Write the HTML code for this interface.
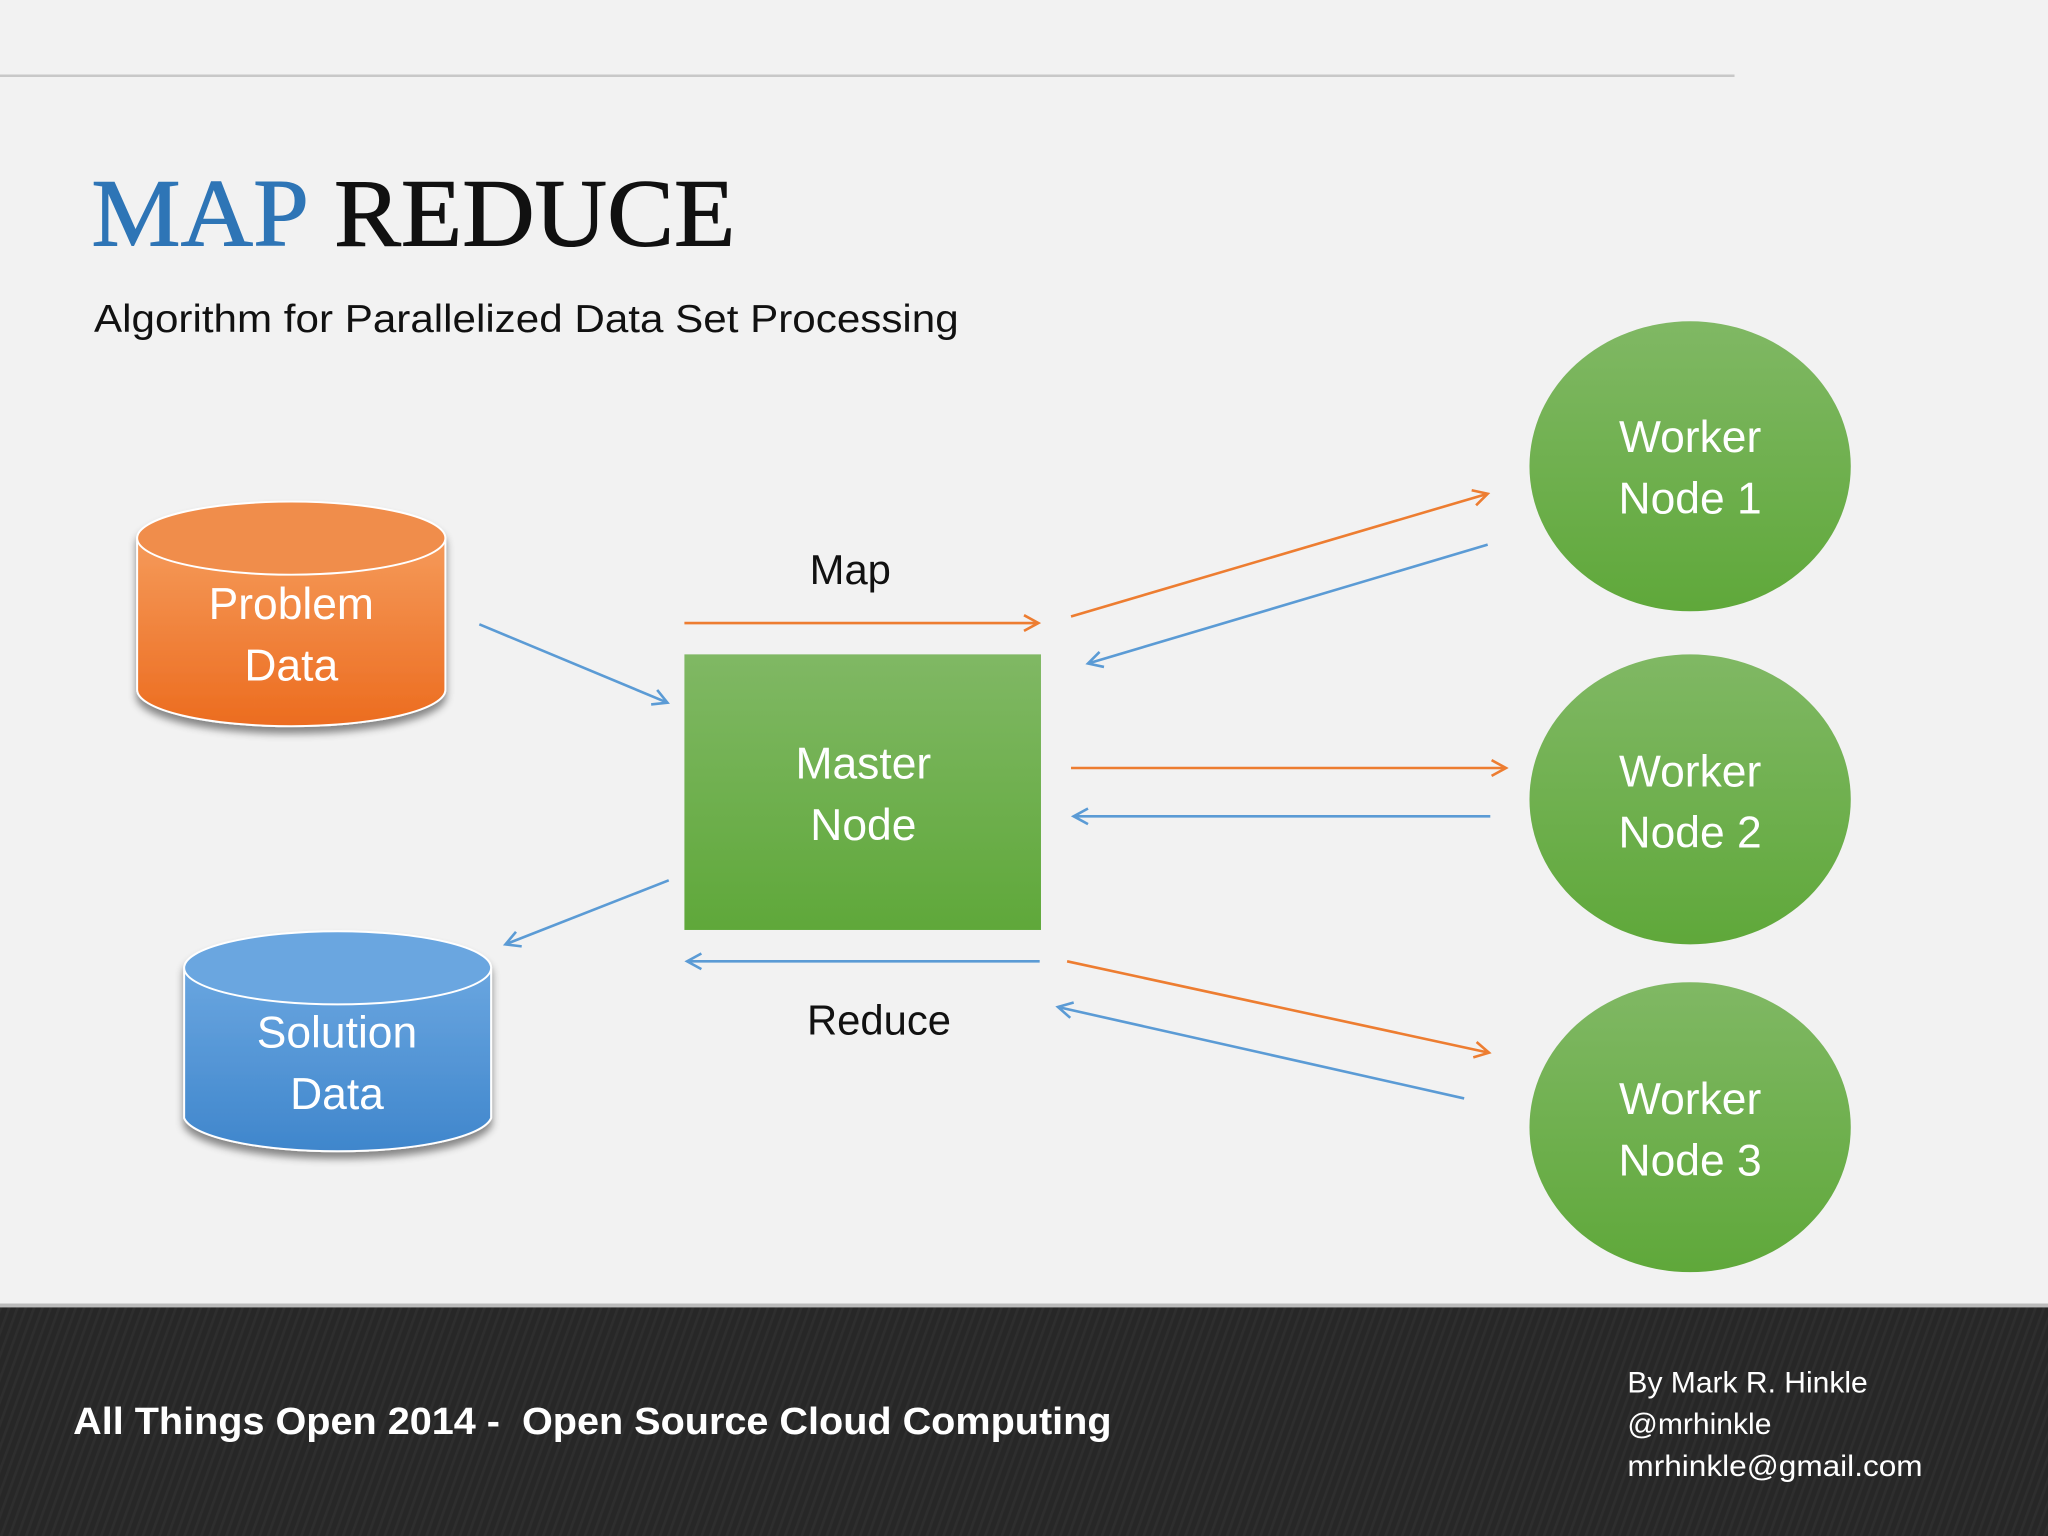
<!DOCTYPE html>
<html><head><meta charset="utf-8"><style>
html,body{margin:0;padding:0;width:2048px;height:1536px;overflow:hidden;background:#f2f2f2}
svg{display:block}
</style></head><body>
<svg width="2048" height="1536" viewBox="0 0 1568 1176" xmlns="http://www.w3.org/2000/svg">
<defs>
<linearGradient id="og" x1="0" y1="0" x2="0" y2="1"><stop offset="0" stop-color="#f59a5a"/><stop offset="1" stop-color="#ec6c1f"/></linearGradient>
<linearGradient id="bg" x1="0" y1="0" x2="0" y2="1"><stop offset="0" stop-color="#6aa6e0"/><stop offset="1" stop-color="#3f86cc"/></linearGradient>
<linearGradient id="gg" x1="0" y1="0" x2="0" y2="1"><stop offset="0" stop-color="#80b864"/><stop offset="1" stop-color="#5fa83a"/></linearGradient>
<pattern id="stripe" width="6" height="6" patternUnits="userSpaceOnUse" patternTransform="rotate(20)"><rect width="6" height="6" fill="#272727"/><rect width="2" height="6" fill="#2e2e2e"/></pattern>
<marker id="ao" markerWidth="14" markerHeight="14" refX="12" refY="7" orient="auto" markerUnits="userSpaceOnUse"><path d="M1,1 L12,7 L1,13" fill="none" stroke="#ed7d31" stroke-width="2"/></marker>
<marker id="ab" markerWidth="14" markerHeight="14" refX="12" refY="7" orient="auto" markerUnits="userSpaceOnUse"><path d="M1,1 L12,7 L1,13" fill="none" stroke="#5b9bd5" stroke-width="2"/></marker>
<filter id="sh" x="-10%" y="-10%" width="120%" height="130%"><feDropShadow dx="0" dy="5" stdDeviation="3" flood-color="#000" flood-opacity="0.45"/></filter>
</defs>
<rect width="1568" height="1176" fill="#f2f2f2"/>
<line x1="0" y1="58" x2="1328" y2="58" stroke="#c8c8c8" stroke-width="2"/>
<text x="70" y="188" font-family="Liberation Serif, serif" font-size="74" textLength="493" lengthAdjust="spacingAndGlyphs" stroke="#111" stroke-width="0.8"><tspan fill="#2e75b6" stroke="#2e75b6">MAP</tspan><tspan fill="#111"> REDUCE</tspan></text>
<text x="72" y="254" font-family="Liberation Sans, sans-serif" font-size="30" fill="#111" textLength="662" lengthAdjust="spacingAndGlyphs">Algorithm for Parallelized Data Set Processing</text>

<g filter="url(#sh)">
<path d="M105,412 L105,528 A118,28 0 0 0 341,528 L341,412 Z" fill="url(#og)" stroke="#fff" stroke-width="1.5"/>
<ellipse cx="223" cy="412" rx="118" ry="28" fill="#f08d4c" stroke="#fff" stroke-width="1.5"/>
</g>
<text x="223" y="474" text-anchor="middle" font-family="Liberation Sans, sans-serif" font-size="34" fill="#fff">Problem</text>
<text x="223" y="521" text-anchor="middle" font-family="Liberation Sans, sans-serif" font-size="34" fill="#fff">Data</text>

<g filter="url(#sh)">
<path d="M141,741 L141,856 A118,28 0 0 0 376,856 L376,741 Z" fill="url(#bg)" stroke="#fff" stroke-width="1.5"/>
<ellipse cx="258.5" cy="741" rx="117.5" ry="28" fill="#6aa6e0" stroke="#fff" stroke-width="1.5"/>
</g>
<text x="258" y="802" text-anchor="middle" font-family="Liberation Sans, sans-serif" font-size="34" fill="#fff">Solution</text>
<text x="258" y="849" text-anchor="middle" font-family="Liberation Sans, sans-serif" font-size="34" fill="#fff">Data</text>

<rect x="524" y="501" width="273" height="211" fill="url(#gg)"/>
<text x="661" y="596" text-anchor="middle" font-family="Liberation Sans, sans-serif" font-size="34" fill="#fff">Master</text>
<text x="661" y="643" text-anchor="middle" font-family="Liberation Sans, sans-serif" font-size="34" fill="#fff">Node</text>

<g font-family="Liberation Sans, sans-serif" font-size="34" fill="#fff" text-anchor="middle">
<ellipse cx="1294" cy="357" rx="123" ry="111" fill="url(#gg)"/>
<text x="1294" y="346">Worker</text><text x="1294" y="393">Node 1</text>
<ellipse cx="1294" cy="612" rx="123" ry="111" fill="url(#gg)"/>
<text x="1294" y="602">Worker</text><text x="1294" y="649">Node 2</text>
<ellipse cx="1294" cy="863" rx="123" ry="111" fill="url(#gg)"/>
<text x="1294" y="853">Worker</text><text x="1294" y="900">Node 3</text>
</g>

<g stroke-width="2" fill="none">
<line x1="367" y1="478" x2="511" y2="538" stroke="#5b9bd5" marker-end="url(#ab)"/>
<line x1="524" y1="477" x2="795" y2="477" stroke="#ed7d31" marker-end="url(#ao)"/>
<line x1="820" y1="472" x2="1139" y2="378" stroke="#ed7d31" marker-end="url(#ao)"/>
<line x1="1139" y1="417" x2="833" y2="508" stroke="#5b9bd5" marker-end="url(#ab)"/>
<line x1="820" y1="588" x2="1153" y2="588" stroke="#ed7d31" marker-end="url(#ao)"/>
<line x1="1141" y1="625" x2="822" y2="625" stroke="#5b9bd5" marker-end="url(#ab)"/>
<line x1="512" y1="674" x2="387" y2="723" stroke="#5b9bd5" marker-end="url(#ab)"/>
<line x1="796" y1="736" x2="526" y2="736" stroke="#5b9bd5" marker-end="url(#ab)"/>
<line x1="817" y1="736" x2="1140" y2="806" stroke="#ed7d31" marker-end="url(#ao)"/>
<line x1="1121" y1="841" x2="810" y2="771" stroke="#5b9bd5" marker-end="url(#ab)"/>
</g>
<text x="651" y="447" text-anchor="middle" font-family="Liberation Sans, sans-serif" font-size="32" fill="#111">Map</text>
<text x="673" y="792" text-anchor="middle" font-family="Liberation Sans, sans-serif" font-size="32" fill="#111">Reduce</text>

<rect x="0" y="998" width="1568" height="4" fill="#bbb"/>
<rect x="0" y="1001" width="1568" height="175" fill="url(#stripe)"/>
<text x="56" y="1098" font-family="Liberation Sans, sans-serif" font-weight="bold" font-size="29" fill="#fff" xml:space="preserve" textLength="795" lengthAdjust="spacingAndGlyphs">All Things Open 2014 -  Open Source Cloud Computing</text>
<g font-family="Liberation Sans, sans-serif" font-size="23" fill="#fff">
<text x="1246" y="1066">By Mark R. Hinkle</text>
<text x="1246" y="1098">@mrhinkle</text>
<text x="1246" y="1130" textLength="226" lengthAdjust="spacingAndGlyphs">mrhinkle@gmail.com</text>
</g>
</svg>
</body></html>
